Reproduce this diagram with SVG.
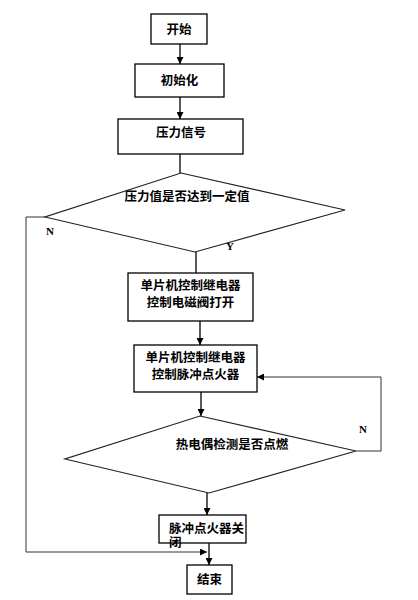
<svg xmlns="http://www.w3.org/2000/svg" width="418" height="600" viewBox="0 0 418 600">
<style>
.box{fill:#fff;stroke:#000;stroke-width:1.3}
.dia{fill:#fff;stroke:#222;stroke-width:1.2}
.t{font-family:"Liberation Sans","Noto Sans CJK SC",sans-serif;font-size:12.5px;font-weight:bold;fill:#000}
.lbl{font-family:"Liberation Serif",serif;font-size:11px;font-weight:bold;fill:#000}
.ln{fill:none;stroke:#000;stroke-width:1.3}
.ln2{fill:none;stroke:#333;stroke-width:1}
</style>
<defs>
<marker id="ah" viewBox="0 0 10 10" refX="10" refY="5" markerWidth="7" markerHeight="7" orient="auto" markerUnits="userSpaceOnUse">
<path d="M0,0 L10,5 L0,10 z" fill="#000"/>
</marker>
</defs>
<rect width="418" height="600" fill="#fff"/>
<g id="connectors">
<path class="ln" d="M180,44 V64" marker-end="url(#ah)"/>
<path class="ln" d="M180,97 V119" marker-end="url(#ah)"/>
<path class="ln" d="M180,154 V173"/>
<path class="ln" d="M196,252 V273"/>
<path class="ln" d="M200,321 V345" marker-end="url(#ah)"/>
<path class="ln" d="M201,392 V416" marker-end="url(#ah)"/>
<path class="ln2" d="M356,451 H381 V377 H257" marker-end="url(#ah)"/>
<path class="ln" d="M207,493 V515" marker-end="url(#ah)"/>
<path class="ln" d="M209,543 V565" marker-end="url(#ah)"/>
<path class="ln2" d="M45,217 H26 V552 H207" marker-end="url(#ah)"/>
</g>
<g id="start">
<rect class="box" x="151" y="14" width="56" height="30"/>
<text class="t" x="179" y="33.5" text-anchor="middle">开始</text>
</g>
<g id="init">
<rect class="box" x="135" y="64" width="89" height="33"/>
<text class="t" x="179.5" y="85" text-anchor="middle">初始化</text>
</g>
<g id="signal">
<rect class="box" x="118" y="119" width="125" height="35"/>
<text class="t" x="181" y="137" text-anchor="middle">压力信号</text>
</g>
<g id="decision1">
<polygon class="dia" points="181,173 345,210 195,252 45,217"/>
<text class="t" x="187" y="201" text-anchor="middle">压力值是否达到一定值</text>
<text class="lbl" x="46" y="235">N</text>
<text class="lbl" x="226" y="250">Y</text>
</g>
<g id="valve">
<rect class="box" x="128" y="273" width="125" height="48"/>
<text class="t" x="190.5" y="290" text-anchor="middle">单片机控制继电器</text>
<text class="t" x="190.5" y="307" text-anchor="middle">控制电磁阀打开</text>
</g>
<g id="igniter">
<rect class="box" x="134" y="345" width="123" height="47"/>
<text class="t" x="195.5" y="362" text-anchor="middle">单片机控制继电器</text>
<text class="t" x="195.5" y="379" text-anchor="middle">控制脉冲点火器</text>
</g>
<g id="decision2">
<polygon class="dia" points="200,416 356,451 209,493 65,459"/>
<text class="t" x="232" y="449" text-anchor="middle">热电偶检测是否点燃</text>
<text class="lbl" x="359" y="433">N</text>
</g>
<g id="off">
<rect class="box" x="159" y="515" width="87" height="28" stroke="#555"/>
<text class="t" x="169" y="533">脉冲点火器关</text>
<text class="t" x="169" y="547" font-size="11px">闭</text>
</g>
<g id="end">
<rect class="box" x="187" y="565" width="45" height="29"/>
<text class="t" x="209.5" y="584" text-anchor="middle">结束</text>
</g>
</svg>
